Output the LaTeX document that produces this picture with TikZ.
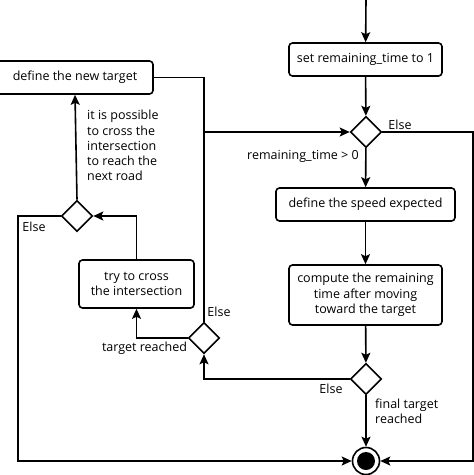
\documentclass[tikz,border=0pt]{standalone}
\usepackage{fontspec}
\setmainfont{Open Sans}
\usetikzlibrary{shapes.geometric,arrows.meta}
\begin{document}
\begin{tikzpicture}[x=1pt,y=-1pt,
  every node/.style={font=\fontsize{12.5}{15.3}\selectfont},
  flow/.style={line width=1.6pt},
  arr/.style={flow,-{Stealth[length=10pt,width=9pt,inset=2pt]}},
  act/.style={draw,line width=1.6pt,rounded corners=3.5pt,align=center,inner sep=0pt},
  dec/.style={draw,line width=1.6pt,diamond,minimum width=31pt,minimum height=31pt,inner sep=0pt},
  lbl/.style={inner sep=0pt}]
\useasboundingbox (0,0) rectangle (474,475);
\coordinate (top) at (366,0);
\node[act,minimum width=153pt,minimum height=33pt] (setrt) at (365.5,59.5) {set remaining\_time to 1};
\node[dec] (d1) at (366,132) {};
\node[act,minimum width=179pt,minimum height=33pt] (speed) at (365.5,204.5) {define the speed expected};
\node[act,minimum width=153pt,minimum height=60pt] (compute) at (365.5,295) {compute the remaining\\time after moving\\toward the target};
\node[dec] (d2) at (366,379) {};
\node[circle,draw,line width=1.6pt,minimum size=27pt,inner sep=0pt,
  path picture={\fill (path picture bounding box.center) circle (9pt);}] (final) at (366,461) {};
\node[act,minimum width=156pt,minimum height=33pt] (newt) at (75,77.5) {define the new target};
\node[dec] (d4) at (77,216) {};
\node[act,minimum width=115pt,minimum height=48pt] (try) at (136.5,284) {try to cross\\the intersection};
\node[dec] (d3) at (204,338) {};
\coordinate (j1) at (204,132);
\coordinate (rt) at (473,132);
\coordinate (rb) at (473,461);
\coordinate (lb) at (18,461);

\draw[arr] (top) -- (setrt);
\draw[arr] (setrt) -- (d1);
\draw[arr] (d1) -- (speed);
\draw[arr] (speed) -- (compute);
\draw[arr] (compute) -- (d2);
\draw[arr] (d2) -- (final);
\draw[arr] (d2.west) -| (d3.south);
\draw[arr] (d3.west) -| (try.south);
\draw[arr] (d3.north) |- (d1.west);
\draw[flow] (newt.east) -| (j1);
\draw[arr] (d1.east) -- (rt) -- (rb) -- (final.east);
\draw[arr] (try.north) |- (d4.east);
\draw[arr] (d4.north) -- (newt.south);
\draw[arr] (d4.west) -| (lb) -- (final.west);

\node[lbl] (l1) at (303,156) {remaining\_time > 0};
\node[lbl] (l2) at (400,125) {Else};
\node[lbl] (l3) at (331,389) {Else};
\node[lbl,align=left,anchor=west] (l4) at (375,411) {final target\\reached};
\node[lbl] (l5) at (219,312) {Else};
\node[lbl] (l6) at (144.5,348) {target reached};
\node[lbl,align=left,anchor=north west] (l7) at (87,110) {it is possible\\to cross the\\intersection\\to reach the\\next road};
\node[lbl] (l8) at (34,227) {Else};
\end{tikzpicture}
\end{document}
